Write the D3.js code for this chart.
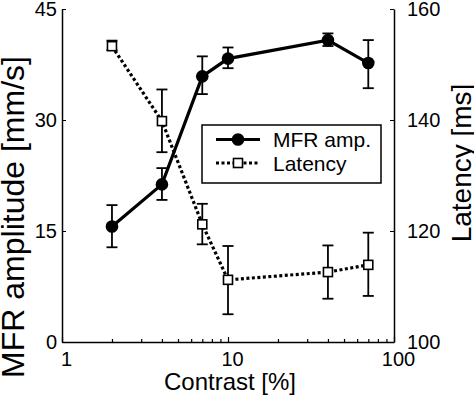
<!DOCTYPE html>
<html><head><meta charset="utf-8">
<script src="https://cdn.jsdelivr.net/npm/d3@7"></script>
<style>body{margin:0;background:#fff}svg{display:block}text{font-family:"Liberation Sans",Arial,sans-serif;fill:#000}</style>
</head><body><svg id="c" width="474" height="395"></svg>
<script>
const contrast = [2, 4, 7, 10, 40, 70];
const mfrAmp = [15.6, 21.3, 35.9, 38.3, 40.8, 37.7];
const mfrLo = [12.8, 19.2, 33.5, 37.0, 40.0, 34.3];
const mfrHi = [18.5, 23.5, 38.6, 39.8, 41.7, 40.8];
const latency = [153.3, 139.8, 121.2, 111.2, 112.6, 113.9];
const latLo = [152.6, 134.2, 117.6, 105.0, 107.8, 108.3];
const latHi = [154.3, 145.5, 124.9, 117.3, 117.4, 119.7];
const xTicks = [1, 10, 100];
const leftTicks = [0, 15, 30, 45];
const rightTicks = [100, 120, 140, 160];
const seriesNames = ["MFR amp.", "Latency"];

const svg = d3.select("#c");
const L = 62, R = 394, T = 9, B = 342;
const x = d3.scaleLog().domain([1, 100]).range([L, R]);
const yL = d3.scaleLinear().domain([0, 45]).range([B, T]);
const yR = d3.scaleLinear().domain([100, 160]).range([B, T]);

// axes
const minor = [];
for (let d = 1; d <= 10; d *= 10) for (let k = 2; k <= 9; k++) minor.push(d * k);
const gx = svg.append("g").attr("transform", `translate(0,${B})`)
  .call(d3.axisBottom(x).tickValues(xTicks).tickFormat(d3.format("d")).tickSizeInner(-5).tickSizeOuter(0).tickPadding(10));
gx.selectAll(".tick text").attr("font-size", 20).attr("dx", 4).attr("font-family", "Liberation Sans, Arial, sans-serif");
gx.selectAll(".tick line").attr("stroke-width", 1.2);
gx.select(".domain").attr("stroke-width", 1.5);
svg.append("g").attr("transform", `translate(0,${B})`)
  .call(d3.axisBottom(x).tickValues(minor).tickFormat("").tickSizeInner(-3).tickSizeOuter(0))
  .call(g => g.select(".domain").remove())
  .selectAll("line").attr("stroke-width", 1.2);

const gl = svg.append("g").attr("transform", `translate(${L},0)`)
  .call(d3.axisLeft(yL).tickValues(leftTicks).tickSizeInner(-4).tickSizeOuter(0).tickPadding(5));
gl.selectAll(".tick text").attr("font-size", 20).attr("font-family", "Liberation Sans, Arial, sans-serif");
gl.select(".domain").attr("stroke-width", 1.5);

const gr = svg.append("g").attr("transform", `translate(${R},0)`)
  .call(d3.axisRight(yR).tickValues(rightTicks).tickSizeInner(-4).tickSizeOuter(0).tickPadding(13));
gr.selectAll(".tick text").attr("font-size", 20).attr("font-family", "Liberation Sans, Arial, sans-serif");
gr.select(".domain").attr("stroke-width", 1.5);

// axis titles
svg.append("text").attr("transform", "translate(24,217) rotate(-90)").attr("text-anchor", "middle")
  .attr("font-size", 32).text("MFR amplitude [mm/s]");
svg.append("text").attr("transform", "translate(471,163) rotate(-90)").attr("text-anchor", "middle")
  .attr("font-size", 28).text("Latency [ms]");
svg.append("text").attr("x", 230).attr("y", 390).attr("text-anchor", "middle")
  .attr("font-size", 24).text("Contrast [%]");

const capW = 11;
function errBars(lo, hi, y) {
  const g = svg.append("g").attr("stroke", "#000").attr("stroke-width", 1.8).attr("fill", "none");
  contrast.forEach((c, i) => {
    const cx = x(c);
    g.append("line").attr("x1", cx).attr("x2", cx).attr("y1", y(lo[i])).attr("y2", y(hi[i]));
    g.append("line").attr("x1", cx - capW / 2).attr("x2", cx + capW / 2).attr("y1", y(lo[i])).attr("y2", y(lo[i]));
    g.append("line").attr("x1", cx - capW / 2).attr("x2", cx + capW / 2).attr("y1", y(hi[i])).attr("y2", y(hi[i]));
  });
}

// MFR
errBars(mfrLo, mfrHi, yL);
svg.append("path").datum(contrast.map((c, i) => [x(c), yL(mfrAmp[i])]))
  .attr("d", d3.line()).attr("fill", "none").attr("stroke", "#000").attr("stroke-width", 3.2);
svg.append("g").selectAll("circle").data(contrast).join("circle")
  .attr("cx", d => x(d)).attr("cy", (d, i) => yL(mfrAmp[i])).attr("r", 6.3).attr("fill", "#000");

// Latency
errBars(latLo, latHi, yR);
svg.append("path").datum(contrast.map((c, i) => [x(c), yR(latency[i])]))
  .attr("d", d3.line()).attr("fill", "none").attr("stroke", "#000").attr("stroke-width", 3.2)
  .attr("stroke-dasharray", "3,2.5");
svg.append("g").selectAll("rect").data(contrast).join("rect")
  .attr("x", d => x(d) - 4.5).attr("y", (d, i) => yR(latency[i]) - 4.5).attr("width", 9).attr("height", 9)
  .attr("fill", "#fff").attr("stroke", "#000").attr("stroke-width", 1.6);

// legend
const lg = svg.append("g");
lg.append("rect").attr("x", 202).attr("y", 125).attr("width", 179).attr("height", 58)
  .attr("fill", "#fff").attr("stroke", "#000").attr("stroke-width", 1.5);
const ly = [139.5, 163];
lg.append("line").attr("x1", 216).attr("x2", 260).attr("y1", ly[0]).attr("y2", ly[0]).attr("stroke", "#000").attr("stroke-width", 3.2);
lg.append("circle").attr("cx", 238).attr("cy", ly[0]).attr("r", 6.3).attr("fill", "#000");
lg.append("line").attr("x1", 216).attr("x2", 260).attr("y1", ly[1]).attr("y2", ly[1]).attr("stroke", "#000").attr("stroke-width", 3.2).attr("stroke-dasharray", "3,2.5");
lg.append("rect").attr("x", 233.5).attr("y", ly[1] - 4.5).attr("width", 9).attr("height", 9).attr("fill", "#fff").attr("stroke", "#000").attr("stroke-width", 1.6);
lg.selectAll("text.lab").data(seriesNames).join("text").attr("class", "lab")
  .attr("x", 273).attr("y", (d, i) => ly[i]).attr("dy", "0.36em").attr("font-size", 21).text(d => d);
</script></body></html>
